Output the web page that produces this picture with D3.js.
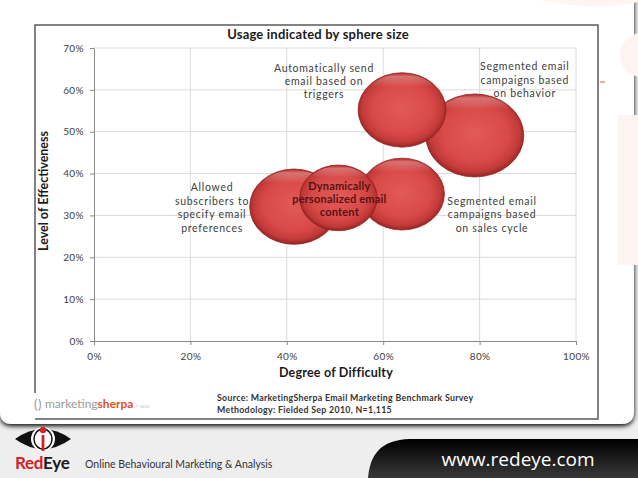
<!DOCTYPE html>
<html><head><meta charset="utf-8">
<script src="https://cdn.jsdelivr.net/npm/d3@7"></script>
<style>html,body{margin:0;padding:0;background:#eeeeee;}svg{display:block;}</style>
</head><body>
<script>
// ---- data ----
const categories = [
  "Segmented email campaigns based on behavior",
  "Automatically send email based on triggers",
  "Allowed subscribers to specify email preferences",
  "Segmented email campaigns based on sales cycle",
  "Dynamically personalized email content"
];
const difficulty    = [0.790, 0.639, 0.415, 0.639, 0.507];
const effectiveness = [0.491, 0.552, 0.321, 0.351, 0.342];
const usage         = [0.56, 0.45, 0.46, 0.42, 0.35];
const labelLines = [
  ["Segmented email", "campaigns based", "on behavior"],
  ["Automatically send", "email based on", "triggers"],
  ["Allowed", "subscribers to", "specify email", "preferences"],
  ["Segmented email", "campaigns based", "on sales cycle"],
  ["Dynamically", "personalized email", "content"]
];
const xTicks = [0, 0.2, 0.4, 0.6, 0.8, 1.0];
const yTicks = [0, 0.1, 0.2, 0.3, 0.4, 0.5, 0.6, 0.7];
const title = "Usage indicated by sphere size";
const xTitle = "Degree of Difficulty";
const yTitle = "Level of Effectiveness";
const sourceLines = ["Source: MarketingSherpa Email Marketing Benchmark Survey",
                     "Methodology: Fielded Sep 2010, N=1,115"];

// ---- layout (pixels) ----
const W = 638, H = 478;
const plot = {l: 94, r: 576, t: 48, b: 341};
const labelOffset = [[50, -69], [-78, -42], [-82, -19], [90, 7], [1, -12]];
const ASPECT = 1.18;

const svg = d3.select("body").append("svg").attr("width", W).attr("height", H);
const defs = svg.append("defs");

// background
svg.append("rect").attr("width", W).attr("height", H).attr("fill", "#eeeeee");
const sh = defs.append("filter").attr("id", "shadow").attr("x", "-5%").attr("y", "-5%").attr("width", "110%").attr("height", "115%");
sh.append("feGaussianBlur").attr("in", "SourceAlpha").attr("stdDeviation", 2.5);
sh.append("feOffset").attr("dy", 2).attr("result", "b");
const fm = sh.append("feMerge");
fm.append("feMergeNode"); fm.append("feMergeNode").attr("in", "SourceGraphic");
svg.append("path")
  .attr("d", "M0,-5 L634,-5 L634,411 Q634,424 621,424 L12,424 Q0,424 0,412 Z")
  .attr("fill", "#ffffff").attr("filter", "url(#shadow)");

// faint decorative logo on the right
svg.append("circle").attr("cx", 642).attr("cy", 55).attr("r", 22).attr("fill", "#fdf4f1");
svg.append("rect").attr("x", 618).attr("y", 115).attr("width", 20).attr("height", 150).attr("fill", "#fdf4f1");
svg.append("path").attr("d", "M540,0 Q600,12 638,2 L638,0 Z").attr("fill", "#fdf5f2");
svg.append("line").attr("x1", 600).attr("x2", 605).attr("y1", 82).attr("y2", 82).attr("stroke", "#d9534f").attr("stroke-width", 1);

// chart frame
svg.append("rect").attr("x", 35).attr("y", 25).attr("width", 563).attr("height", 394).attr("fill", "#ffffff");
svg.append("path").attr("d", "M35,393 L35,25 L598,25 L598,419 L35,419")
  .attr("fill", "none").attr("stroke", "#5a5a5a").attr("stroke-width", 1.5);

// scales
const x = d3.scaleLinear().domain([0, 1]).range([plot.l, plot.r]);
const y = d3.scaleLinear().domain([0, 0.7]).range([plot.b, plot.t]);
const rScale = d3.scaleSqrt().domain([0, d3.max(usage)]).range([0, 41.5]);

// gridlines
const grid = svg.append("g").attr("stroke", "#dadada").attr("stroke-width", 1);
grid.selectAll(".gx").data(xTicks.slice(1)).join("line")
  .attr("x1", d => x(d)).attr("x2", d => x(d)).attr("y1", plot.t).attr("y2", plot.b);
grid.selectAll(".gy").data(yTicks.slice(1)).join("line")
  .attr("x1", plot.l).attr("x2", plot.r).attr("y1", d => y(d)).attr("y2", d => y(d));

// axes
const fmt = d3.format(".0%");
const yAxis = svg.append("g").attr("transform", `translate(${plot.l},0)`)
  .call(d3.axisLeft(y).tickValues(yTicks).tickFormat(fmt).tickSize(4).tickSizeOuter(0).tickPadding(6));
const xAxis = svg.append("g").attr("transform", `translate(0,${plot.b})`)
  .call(d3.axisBottom(x).tickValues(xTicks).tickFormat(fmt).tickSize(4).tickSizeOuter(0).tickPadding(8));
[xAxis, yAxis].forEach(a => {
  a.select(".domain").attr("stroke", "#8a8a8a");
  a.selectAll(".tick line").attr("stroke", "#8a8a8a");
  a.selectAll("text").attr("font-family", "Lato, 'Open Sans', sans-serif").attr("font-size", 10)
    .attr("fill", "#404040").attr("letter-spacing", 0.4);
});

// bubble gradient
const rg = defs.append("radialGradient").attr("id", "bub").attr("cx", "50%").attr("cy", "48%").attr("r", "52%");
[["0%", "#e25a58"], ["65%", "#d84a48"], ["88%", "#c23a38"], ["100%", "#962424"]]
  .forEach(s => rg.append("stop").attr("offset", s[0]).attr("stop-color", s[1]));
const hl = defs.append("linearGradient").attr("id", "hl").attr("x1", 0).attr("y1", 0).attr("x2", 0).attr("y2", 1);
[["0%", "#ffffff", 0.0], ["4%", "#ffffff", 0.28], ["18%", "#ffffff", 0.0], ["100%", "#ffffff", 0]]
  .forEach(s => hl.append("stop").attr("offset", s[0]).attr("stop-color", s[1]).attr("stop-opacity", s[2]));

const idx = d3.range(categories.length);
const bub = svg.append("g").selectAll("g").data(idx).join("g")
  .attr("transform", i => `translate(${x(difficulty[i])},${y(effectiveness[i])})`);
bub.append("ellipse").attr("rx", i => rScale(usage[i]) * ASPECT).attr("ry", i => rScale(usage[i]))
  .attr("fill", "url(#bub)").attr("stroke", "#8f2222").attr("stroke-width", 0.8);
bub.append("ellipse").attr("rx", i => rScale(usage[i]) * ASPECT - 1).attr("ry", i => rScale(usage[i]) - 1)
  .attr("fill", "url(#hl)");

// labels
const lbl = svg.append("g").selectAll("text").data(idx).join("text")
  .attr("font-family", "Lato, 'Open Sans', sans-serif")
  .attr("font-size", i => i === 4 ? 11 : 10.5)
  .attr("text-anchor", "middle")
  .attr("font-weight", i => i === 4 ? "bold" : "normal")
  .attr("fill", i => i === 4 ? "#571212" : "#404040")
  .attr("letter-spacing", i => i === 4 ? 0.2 : 0.7);
lbl.each(function(i) {
  const cx = x(difficulty[i]) + labelOffset[i][0];
  const cy = y(effectiveness[i]) + labelOffset[i][1];
  d3.select(this).selectAll("tspan").data(labelLines[i]).join("tspan")
    .attr("x", cx).attr("y", (d, k) => cy + k * 13.4).attr("dy", "0.35em").text(d => d);
});

// titles
svg.append("text").attr("x", 318).attr("y", 39).attr("text-anchor", "middle")
  .attr("font-family", "Lato, sans-serif").attr("font-weight", "bold").attr("font-size", 13)
  .attr("fill", "#1a1a1a").attr("letter-spacing", 0.2).text(title);
svg.append("text").attr("x", 336).attr("y", 377).attr("text-anchor", "middle")
  .attr("font-family", "Lato, sans-serif").attr("font-weight", "bold").attr("font-size", 12.5)
  .attr("fill", "#1a1a1a").attr("letter-spacing", 0.2).text(xTitle);
svg.append("text").attr("transform", "translate(48,191) rotate(-90)").attr("text-anchor", "middle")
  .attr("font-family", "Lato, sans-serif").attr("font-weight", "bold").attr("font-size", 12.5)
  .attr("fill", "#1a1a1a").text(yTitle);

// source
svg.append("g").selectAll("text").data(sourceLines).join("text")
  .attr("x", 217).attr("y", (d, k) => 401 + k * 12)
  .attr("font-family", "Lato, sans-serif").attr("font-size", 8.8).attr("font-weight", "bold")
  .attr("fill", "#333").attr("letter-spacing", 0.3).text(d => d);

// marketingsherpa logo
svg.append("text").attr("x", 34).attr("y", 409).attr("font-family", "Lato, sans-serif")
  .attr("font-size", 13).attr("fill", "#9a9a9a").text("(");
svg.append("text").attr("x", 38).attr("y", 409).attr("font-family", "Lato, sans-serif")
  .attr("font-size", 13).attr("fill", "#9a9a9a").text(")");
const ms = svg.append("text").attr("x", 45).attr("y", 408).attr("font-family", "Lato, sans-serif").attr("font-size", 12);
ms.append("tspan").attr("fill", "#9a9a9a").text("marketing");
ms.append("tspan").attr("fill", "#e8501f").attr("font-weight", "bold").text("sherpa");
ms.append("tspan").attr("fill", "#b5b5b5").attr("font-size", 4).attr("dx", 2).text("© 2010");

// footer black tab
const fg = defs.append("linearGradient").attr("id", "fg").attr("x1", 0).attr("y1", 0).attr("x2", 0).attr("y2", 1);
[["0%", "#000000"], ["100%", "#383838"]].forEach(s => fg.append("stop").attr("offset", s[0]).attr("stop-color", s[1]));
svg.append("path").attr("d", "M368,478 C370,455 380,440 410,439 L638,439 L638,478 Z").attr("fill", "url(#fg)");
svg.append("text").attr("x", 518).attr("y", 466).attr("text-anchor", "middle")
  .attr("font-family", "'Open Sans', sans-serif").attr("font-size", 19).attr("fill", "#ffffff").text("www.redeye.com");

// RedEye logo
const eye = svg.append("g");
eye.append("path").attr("d", "M15,439 Q43,419 71,439 Q43,459 15,439 Z").attr("fill", "#111");
eye.append("ellipse").attr("cx", 43).attr("cy", 439).attr("rx", 12).attr("ry", 12).attr("fill", "#fff");
eye.append("ellipse").attr("cx", 43).attr("cy", 439).attr("rx", 9).attr("ry", 10).attr("fill", "none").attr("stroke", "#111").attr("stroke-width", 1.5);
eye.append("circle").attr("cx", 43).attr("cy", 430).attr("r", 3.2).attr("fill", "#d42027");
eye.append("rect").attr("x", 41.6).attr("y", 435).attr("width", 2.8).attr("height", 16).attr("fill", "#d42027");
const re = svg.append("text").attr("x", 15).attr("y", 469).attr("font-family", "Lato, sans-serif")
  .attr("font-weight", "bold").attr("font-size", 17).attr("letter-spacing", -0.3);
re.append("tspan").attr("fill", "#d42027").text("Red");
re.append("tspan").attr("fill", "#1a1a1a").text("Eye");
svg.append("text").attr("x", 85).attr("y", 468).attr("font-family", "Lato, sans-serif")
  .attr("font-size", 10.5).attr("fill", "#333").text("Online Behavioural Marketing & Analysis");
</script>
</body></html>
